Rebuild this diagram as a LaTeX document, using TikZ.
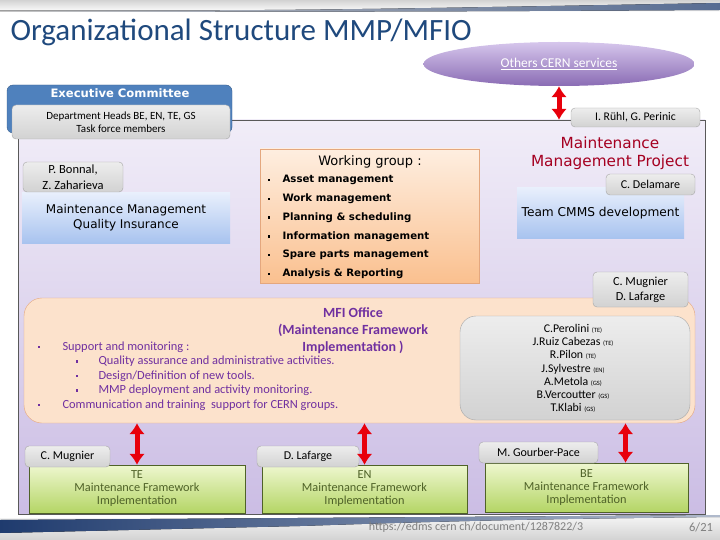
\documentclass[tikz,border=0pt]{standalone}
\usepackage{fontspec}
\setmainfont{Carlito}
\newfontfamily\verdana{DejaVu Sans}
\usetikzlibrary{arrows.meta,positioning,shapes.geometric}
\definecolor{titleblue}{HTML}{1F497D}
\definecolor{lavtop}{HTML}{F1EDF8}
\definecolor{lavbot}{HTML}{CBBDE4}
\definecolor{peach}{HTML}{FCE2CC}
\definecolor{peachline}{HTML}{E4A77E}
\definecolor{orangetop}{HTML}{FEEEE0}
\definecolor{orangebot}{HTML}{FAC08F}
\definecolor{skytop}{HTML}{E8EFFC}
\definecolor{skybot}{HTML}{A8C3EF}
\definecolor{limetop}{HTML}{EEF7CF}
\definecolor{limebot}{HTML}{B4D565}
\definecolor{olive}{HTML}{4F6228}
\definecolor{mfipurple}{HTML}{7030A0}
\definecolor{projred}{HTML}{A50021}
\definecolor{execblue}{HTML}{4F81BD}
\definecolor{execline}{HTML}{385D8A}
\definecolor{tagtop}{HTML}{EDEDED}
\definecolor{tagbot}{HTML}{D2D2D2}
\definecolor{tagline}{HTML}{A6A6A6}
\definecolor{ovaltop}{HTML}{D6C6EC}
\definecolor{ovalbot}{HTML}{8A6CB4}
\definecolor{navy}{HTML}{1F3B6E}
\definecolor{arrowred}{HTML}{E8000B}

\tikzset{
  tag/.style={rounded corners=4pt, draw=tagline, top color=tagtop, bottom color=tagbot,
    inner sep=0pt, align=center, font=\fontsize{12}{14}\selectfont},
  skybox/.style={top color=skytop, bottom color=skybot, inner sep=0pt, align=center},
  limebox/.style={top color=limetop, bottom color=limebot, draw=olive, inner sep=0pt,
    align=center, text=olive, font=\fontsize{12.3}{13}\selectfont},
  link/.style={draw=arrowred, line width=5pt, {Latex[length=11pt,width=16pt]}-{Latex[length=11pt,width=16pt]}},
  sqbullet/.style={fill, minimum size=2.4pt, inner sep=0pt},
}

\begin{document}
\begin{tikzpicture}[x=1pt, y=-1pt]
  \useasboundingbox (0,0) rectangle (720,540);

  % ── Slide frame (top and bottom bands) ──
  \fill[top color=gray!35, bottom color=white] (0,0) rectangle (720,12);
  \fill[left color=gray!45, right color=navy!75] (0,10.5) .. controls (300,10.5) .. (720,3) -- (720,10) .. controls (450,11.5) .. (0,12) -- cycle;
  \fill[top color=gray!10, bottom color=gray!35] (0,518) rectangle (720,540);
  \fill[left color=navy, right color=navy!35] (0,520) .. controls (300,518) .. (720,515) -- (720,517)
    .. controls (520,519) and (420,522) .. (300,526) .. controls (150,530) .. (0,533) -- cycle;

  % ── Title ──
  \node[anchor=west, font=\fontsize{31}{36}\selectfont, text=titleblue] (title) at (7,32) {Organizational Structure MMP/MFIO};

  % ── Others CERN services ──
  \node[ellipse, minimum width=271, minimum height=44, inner sep=0pt, top color=ovaltop, bottom color=ovalbot,
    text=white, font=\fontsize{13.5}{16}\selectfont] (others) at (559,64) {\underline{Others CERN services}};

  % ── Maintenance Management Project panel ──
  \node[draw=gray!70!black, top color=lavtop, bottom color=lavbot, minimum width=687, minimum height=394, inner sep=0pt] (mmp) at (361.5,317) {};

  % ── Executive Committee ──
  \node[rounded corners=6pt, draw=execline, fill=execblue, minimum width=225, minimum height=48, inner sep=0pt] (exec) at (119.5,109) {};
  \node[text=white, font=\verdana\bfseries\fontsize{11.6}{13}\selectfont] (execlabel) at (120,93) {Executive Committee};
  \node[tag, minimum width=218, minimum height=34, font=\fontsize{11}{13}\selectfont] (deptheads) at (121,122) {Department Heads BE, EN, TE, GS\\Task force members};

  % ── Project lead and CMMS team ──
  \node[tag, minimum width=129, minimum height=19, font=\fontsize{11.7}{13}\selectfont] (ruehl) at (635.5,117.5) {I. Rühl, G. Perinic};
  \node[align=center, text=projred, font=\verdana\fontsize{15.3}{17.5}\selectfont] (mmptitle) at (610,153.5) {Maintenance\\Management Project};
  \node[skybox, minimum width=167, minimum height=50, font=\verdana\fontsize{12.2}{14}\selectfont] (cmms) at (600.5,213) {Team CMMS development};
  \node[tag, minimum width=89, minimum height=21] (delamare) at (650.5,184.5) {C. Delamare};

  % ── Quality insurance ──
  \node[skybox, minimum width=208, minimum height=50, font=\verdana\fontsize{12}{15}\selectfont] (mmqi) at (126,218) {Maintenance Management\\Quality Insurance};
  \node[tag, minimum width=100, minimum height=30, font=\fontsize{12.5}{16}\selectfont] (bonnal) at (73,177) {P. Bonnal,\\Z. Zaharieva};

  % ── Working group ──
  \node[draw=peachline, top color=orangetop, bottom color=orangebot, minimum width=219, minimum height=134, inner sep=0pt] (wgroup) at (369.5,216) {};
  \node[font=\verdana\fontsize{13}{15}\selectfont] (wtitle) at (370,162) {Working group :};
  \foreach \wtask [count=\i] in {Asset management, Work management, Planning \& scheduling,
      Information management, Spare parts management, Analysis \& Reporting} {
    \pgfmathsetmacro{\yy}{180 + (\i-1)*18.8}
    \node[sqbullet] (wb\i) at (269,\yy) {};
    \node[anchor=west, font=\verdana\bfseries\fontsize{10.2}{12}\selectfont] (wi\i) at (279,\yy) {\wtask};
  }

  % ── MFI Office ──
  \node[rounded corners=18pt, draw=peachline, fill=peach, minimum width=671, minimum height=125, inner sep=0pt] (mfi) at (359.5,360.5) {};
  \node[align=center, text=mfipurple, font=\bfseries\fontsize{14}{17}\selectfont] (mfititle) at (353,331) {MFI Office\\(Maintenance Framework\\Implementation )};
  \begin{scope}[text=mfipurple, font=\fontsize{12.4}{14}\selectfont]
    \node[sqbullet, mfipurple] (mb1) at (39,347) {};
    \node[anchor=west] (mt1) at (59,347) {Support and monitoring :};
    \foreach \task/\yy [count=\i] in {{Quality assurance and administrative activities.}/361.5,
        {Design/Definition of new tools.}/376, {MMP deployment and activity monitoring.}/390.5} {
      \node[sqbullet, mfipurple] (sb\i) at (77,\yy) {};
      \node[anchor=west] (st\i) at (95,\yy) {\task};
    }
    \node[sqbullet, mfipurple] (mb2) at (39,405) {};
    \node[anchor=west] (mt2) at (59,405) {Communication and training\ \ support for CERN groups.};
  \end{scope}

  \node[tag, minimum width=95, minimum height=35, font=\fontsize{12.3}{15}\selectfont] (mugnierlafarge) at (640.5,289.5) {C. Mugnier\\D. Lafarge};

  % ── MFI team ──
  \newcommand{\dept}[1]{\ {\fontsize{6.5}{7}\selectfont(#1)}}
  \node[rounded corners=16pt, draw=tagline, top color=tagtop, bottom color=tagbot, minimum width=230, minimum height=104, inner sep=0pt] (team) at (575,368) {};
  \node[align=center, font=\fontsize{11.8}{13.2}\selectfont] (teamnames) at (573,368.5)
    {C.Perolini\dept{TE}\\J.Ruiz Cabezas\dept{TE}\\R.Pilon\dept{TE}\\J.Sylvestre\dept{EN}\\A.Metola\dept{GS}\\B.Vercoutter\dept{GS}\\T.Klabi\dept{GS}};

  % ── Departments ──
  \node[limebox, minimum width=216, minimum height=48] (te) at (137,489) {TE\\Maintenance Framework\\Implementation};
  \node[limebox, minimum width=205, minimum height=48] (en) at (364.5,489) {EN\\Maintenance Framework\\Implementation};
  \node[limebox, minimum width=203, minimum height=49] (be) at (586.5,487.5) {BE\\Maintenance Framework\\Implementation};
  \node[tag, minimum width=85, minimum height=21] (mugnier) at (67.5,456.5) {C. Mugnier};
  \node[tag, minimum width=102, minimum height=21] (lafarge) at (308,456.5) {D. Lafarge};
  \node[tag, minimum width=119, minimum height=21] (gourber) at (538.5,452.5) {M. Gourber-Pace};
  \coordinate (beport) at ([xshift=39pt]be.north);

  % ── Links ──
  \draw[link] (others.south) -- (others.south |- mmp.north);
  \draw[link] (te.north |- mfi.south) -- (te.north);
  \draw[link] (en.north |- mfi.south) -- (en.north);
  \draw[link] (beport |- mfi.south) -- (beport);

  % ── Footer ──
  \node[text=gray, font=\fontsize{12}{14}\selectfont] (url) at (476,527) {https://edms cern ch/document/1287822/3};
  \node[text=gray, font=\fontsize{12.5}{14}\selectfont] (pageno) at (701,527) {6/21};
\end{tikzpicture}
\end{document}
